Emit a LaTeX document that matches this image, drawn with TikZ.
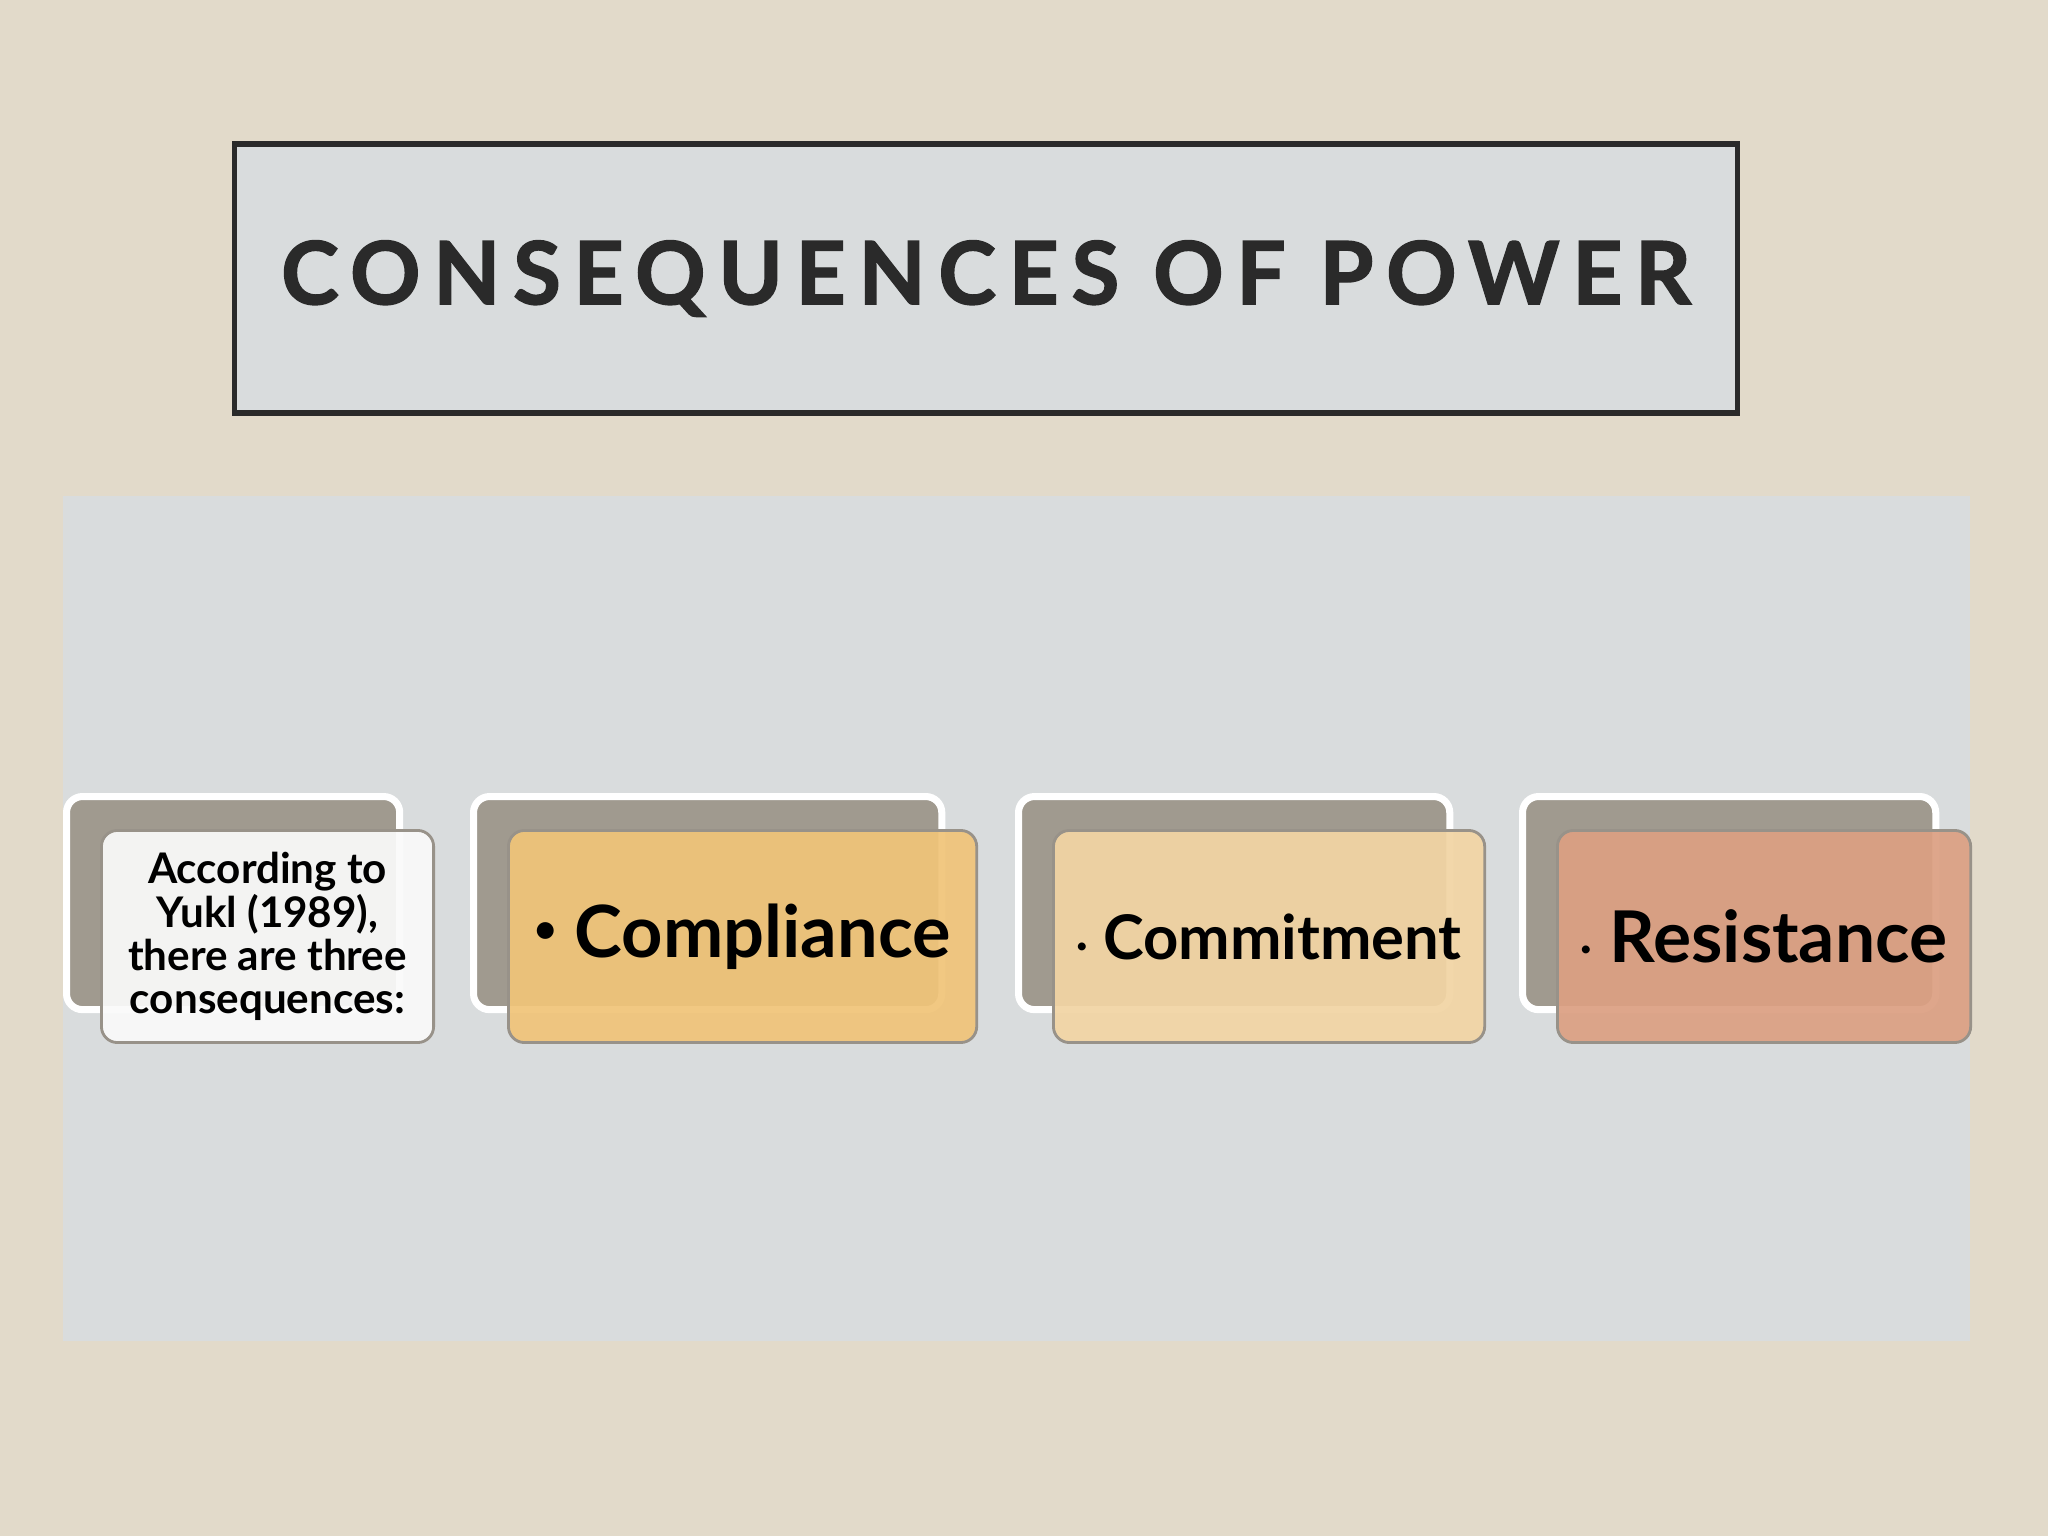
\documentclass[tikz,border=0pt]{standalone}
\usepackage{fontspec}
\setmainfont{Lato}
\newfontfamily\titlefont[LetterSpace=14.5,BoldFeatures={FakeBold=1.6}]{Lato}
\usetikzlibrary{positioning}

\definecolor{paper}{RGB}{226,218,202}
\definecolor{panel}{RGB}{217,220,221}
\definecolor{backgray}{RGB}{160,154,143}
\definecolor{edgegray}{RGB}{152,146,137}
\definecolor{titleink}{RGB}{42,42,42}
\definecolor{boxwhite}{RGB}{250,250,250}
\definecolor{boxorange}{RGB}{240,196,121}
\definecolor{boxsand}{RGB}{242,213,164}
\definecolor{boxsalmon}{RGB}{220,160,131}

\begin{document}
\begin{tikzpicture}[x=0.01cm,y=-0.01cm,
    backcard/.style={draw=white,line width=2pt,fill=backgray,rounded corners=0.16cm,
      anchor=north west,minimum height=2.13cm,inner sep=0pt},
    frontcard/.style={draw=edgegray,line width=0.8pt,fill opacity=0.93,text opacity=1,
      rounded corners=0.16cm,anchor=north west,minimum height=2.12cm,inner sep=0pt,
      align=center},
    bigword/.style={font=\fontsize{20.5pt}{22pt}\selectfont\bfseries}]
  % page and panel
  \fill [paper] (0,0) rectangle (2048,1536);
  \useasboundingbox (0,0) rectangle (2048,1536);
  \fill [panel] (63,496) rectangle (1970,1341);
  % title box
  \node [draw=titleink,line width=1.5pt,fill=panel,minimum width=15.02cm,minimum height=2.69cm,
    text=titleink,font=\fontsize{24.8pt}{26pt}\selectfont\titlefont\bfseries] (title) at (986,278.5)
    {CONSEQUENCES OF POWER};
  % first card
  \node [backcard,minimum width=3.33cm] (yuklback) at (63,793) {};
  \node [frontcard,fill=boxwhite,minimum width=3.32cm,font=\fontsize{12pt}{12.3pt}\selectfont\bfseries]
    (yukl) at ([shift={(0.37cm,-0.36cm)}]yuklback.north west)
    {According to\\Yukl (1989),\\there are three\\consequences:};
  % compliance
  \node [backcard,minimum width=4.68cm] (complback) at (470,793) {};
  \node [frontcard,fill=boxorange,minimum width=4.68cm,bigword]
    (compl) at ([shift={(0.37cm,-0.36cm)}]complback.north west)
    {\raisebox{0.2em}{\fontsize{11pt}{11pt}\selectfont\textbullet}\ Compliance};
  % commitment
  \node [backcard,minimum width=4.31cm] (commback) at (1015,793) {};
  \node [frontcard,fill=boxsand,minimum width=4.31cm,font=\fontsize{17.5pt}{19pt}\selectfont\bfseries]
    (comm) at ([shift={(0.37cm,-0.36cm)}]commback.north west)
    {{\fontsize{12pt}{12pt}\selectfont·} Commitment};
  % resistance
  \node [backcard,minimum width=4.13cm] (resback) at (1519,793) {};
  \node [frontcard,fill=boxsalmon,minimum width=4.13cm,font=\fontsize{20.3pt}{22pt}\selectfont\bfseries]
    (res) at ([shift={(0.37cm,-0.36cm)}]resback.north west)
    {{\fontsize{12pt}{12pt}\selectfont·} Resistance};
\end{tikzpicture}
\end{document}
